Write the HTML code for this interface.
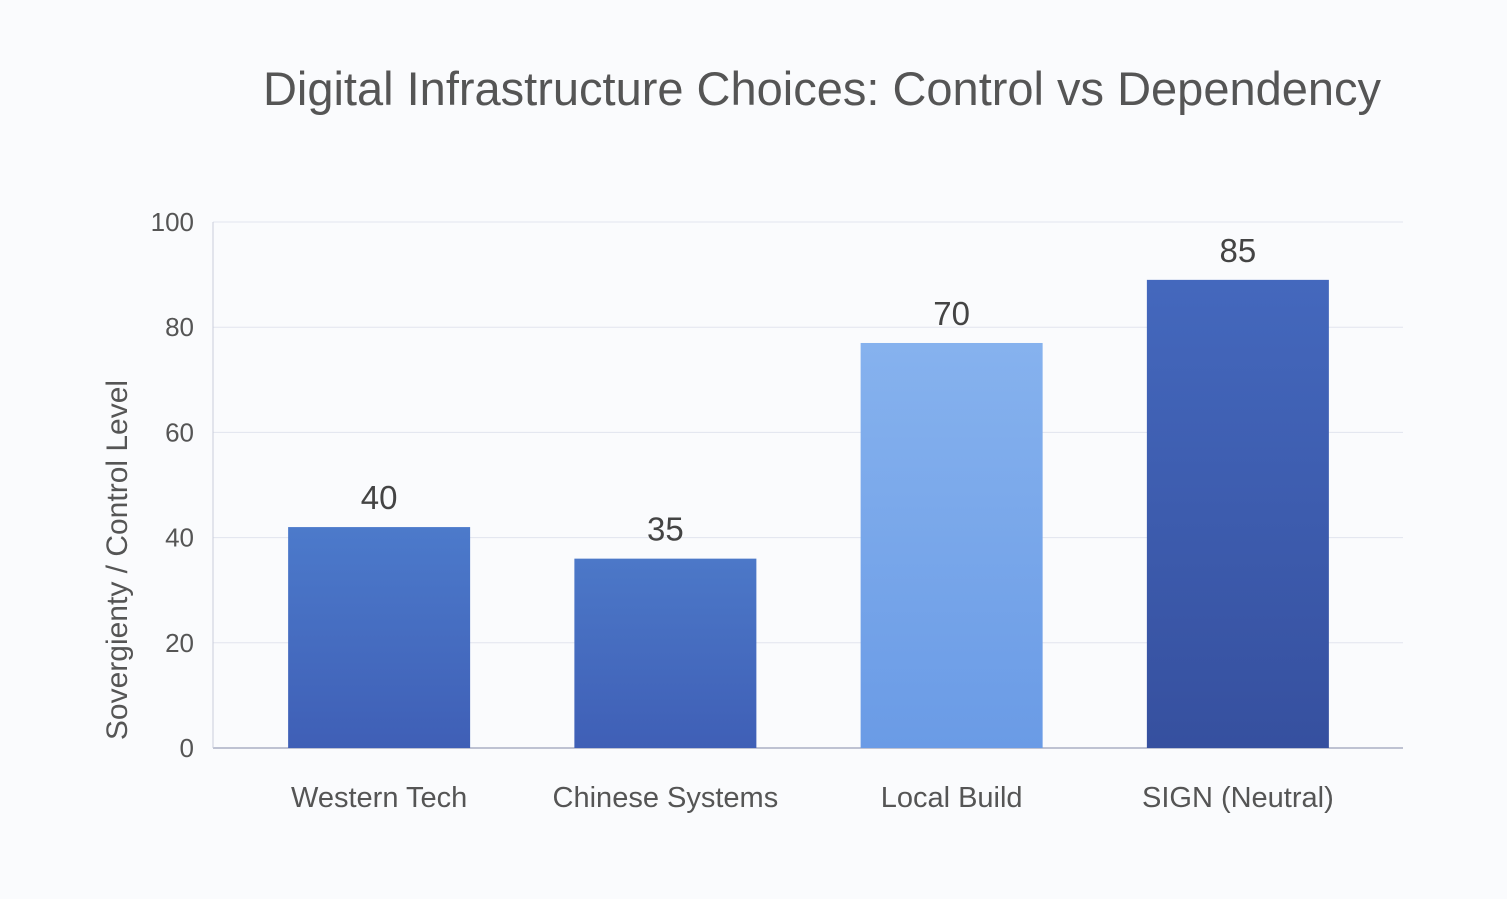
<!DOCTYPE html>
<html><head><meta charset="utf-8"><style>
body{margin:0;background:#fafbfd;}
svg{display:block;font-family:"Liberation Sans","DejaVu Sans",sans-serif;}
</style></head><body>
<svg id="chart" width="1507" height="899">
<defs>
<linearGradient id="g0" x1="0" y1="0" x2="0" y2="1"><stop offset="0" stop-color="#4c7acb"/><stop offset="1" stop-color="#3f5fb6"/></linearGradient>
<linearGradient id="g1" x1="0" y1="0" x2="0" y2="1"><stop offset="0" stop-color="#4c78c8"/><stop offset="1" stop-color="#3f5fb6"/></linearGradient>
<linearGradient id="g2" x1="0" y1="0" x2="0" y2="1"><stop offset="0" stop-color="#86b2ee"/><stop offset="1" stop-color="#6a9be6"/></linearGradient>
<linearGradient id="g3" x1="0" y1="0" x2="0" y2="1"><stop offset="0" stop-color="#4468bd"/><stop offset="1" stop-color="#36509f"/></linearGradient>
</defs>
<text x="822" y="105" text-anchor="middle" font-size="47" fill="#555">Digital Infrastructure Choices: Control vs Dependency</text>
<text transform="translate(127,560) rotate(-90)" text-anchor="middle" font-size="30" fill="#555">Sovergienty / Control Level</text>
<g id="grid"></g><g id="bars"></g>
</svg>
<script>
const categories=["Western Tech","Chinese Systems","Local Build","SIGN (Neutral)"];
const values=[42,36,77,89];
const valueLabels=["40","35","70","85"];
const yTicks=[0,20,40,60,80,100];
const fills=["url(#g0)","url(#g1)","url(#g2)","url(#g3)"];
const NS="http://www.w3.org/2000/svg";
const y0=748,y1=222,xL=213,xR=1403,rL=236,rR=1381,bw=182;
const y=v=>y0-(v/100)*(y0-y1);
const band=(rR-rL)/categories.length;
const xc=i=>rL+band*(i+0.5);
function mk(t,a,p){const e=document.createElementNS(NS,t);for(const k in a)e.setAttribute(k,a[k]);p.appendChild(e);return e;}
const grid=document.getElementById('grid'),bars=document.getElementById('bars');
yTicks.forEach(t=>{
 const l=mk('line',{x1:xL,x2:xR,y1:y(t),y2:y(t),stroke:t===0?'#a9b0c4':'#e1e4ee','stroke-width':t===0?1.5:1},grid);
 
 
 const tx=mk('text',{x:194,y:y(t)+9,'text-anchor':'end','font-size':26,fill:'#555'},grid);
 tx.textContent=t;
 
 
});
mk('line',{x1:xL,x2:xL,y1:y1,y2:y0,stroke:'#c9cdda','stroke-width':1},grid);
categories.forEach((c,i)=>{
 const r=mk('rect',{x:xc(i)-bw/2,y:y(values[i]),width:bw,height:y0-y(values[i]),fill:fills[i]},bars);
 
 
 const v=mk('text',{x:xc(i),y:y(values[i])-18,'text-anchor':'middle','font-size':33,fill:'#444'},bars);
 v.textContent=valueLabels[i];
 
 
 const cl=mk('text',{x:xc(i),y:807,'text-anchor':'middle','font-size':29,fill:'#555'},bars);
 cl.textContent=c;
 
 
});
</script>
</body></html>
